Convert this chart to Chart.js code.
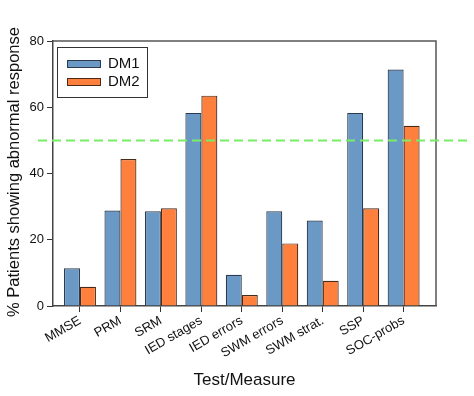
<!DOCTYPE html>
<html>
<head>
<meta charset="utf-8">
<script src="https://cdn.jsdelivr.net/npm/chart.js@4/dist/chart.umd.min.js"></script>
<style>
html,body{margin:0;padding:0;background:#fff;}
#wrap{width:474px;height:396px;position:relative;}
</style>
</head>
<body>
<div id="wrap"><canvas id="c" width="474" height="396"></canvas></div>
<script>
const categories = ["MMSE","PRM","SRM","IED stages","IED errors","SWM errors","SWM strat.","SSP","SOC-probs"];
const dm1 = [11.4, 28.8, 28.6, 58.3, 9.4, 28.6, 25.8, 58.3, 71.4];
const dm2 = [5.8, 44.4, 29.5, 63.5, 3.3, 18.9, 7.6, 29.5, 54.4];
const seriesNames = ["DM1","DM2"];
const yTicks = [0, 20, 40, 60, 80];
const threshold = 50;
const yTitle = '% Patients showing abnormal response';
const xTitle = 'Test/Measure';

const FONT = "'Liberation Sans', Arial, sans-serif";

const toPoints = arr => arr.map((v, i) => ({ x: i, y: v }));

const extras = {
  id: 'extras',
  afterDatasetsDraw(chart) {
    const {ctx, chartArea: a, scales} = chart;
    ctx.save();
    // frame top & right
    ctx.strokeStyle = '#555';
    ctx.lineWidth = 1.5;
    ctx.beginPath();
    ctx.moveTo(a.left, a.top);
    ctx.lineTo(a.right, a.top);
    ctx.lineTo(a.right, a.bottom);
    ctx.stroke();
    // threshold dashed line
    const y = scales.y.getPixelForValue(threshold);
    ctx.strokeStyle = '#77EE66';
    ctx.lineWidth = 2;
    ctx.setLineDash([9, 5]);
    ctx.beginPath();
    ctx.moveTo(38, y);
    ctx.lineTo(472, y);
    ctx.stroke();
    ctx.setLineDash([]);
    // legend box
    const lx = a.left + 4, ly = a.top + 6, lw = 90, lh = 50;
    ctx.strokeStyle = '#333';
    ctx.lineWidth = 1;
    ctx.strokeRect(lx + 0.5, ly + 0.5, lw, lh);
    chart.data.datasets.forEach((ds, i) => {
      const sy = ly + 13 + i * 18;
      ctx.fillStyle = ds.backgroundColor;
      ctx.fillRect(lx + 10, sy, 33, 7);
      ctx.strokeStyle = ds.borderColor;
      ctx.strokeRect(lx + 10.5, sy + 0.5, 33, 7);
      ctx.fillStyle = '#111';
      ctx.font = '15px ' + FONT;
      ctx.textBaseline = 'middle';
      ctx.textAlign = 'left';
      ctx.fillText(ds.label, lx + 51, sy + 4);
    });
    // y axis title
    ctx.save();
    ctx.translate(14, 172);
    ctx.rotate(-Math.PI / 2);
    ctx.fillStyle = '#111';
    ctx.font = '16.5px ' + FONT;
    ctx.textAlign = 'center';
    ctx.textBaseline = 'middle';
    ctx.fillText(yTitle, 0, 0);
    ctx.restore();
    ctx.restore();
  }
};

new Chart(document.getElementById('c'), {
  type: 'bar',
  data: {
    datasets: [
      { label: seriesNames[0], data: toPoints(dm1), backgroundColor: '#6A99C6', borderColor: '#2B3A4E', borderWidth: 1.2 },
      { label: seriesNames[1], data: toPoints(dm2), backgroundColor: '#FF7F3C', borderColor: '#4A2A18', borderWidth: 1.2 }
    ]
  },
  options: {
    responsive: false,
    animation: false,
    devicePixelRatio: 1,
    layout: { padding: { top: 41, right: 38, left: 0, bottom: 0 } },
    datasets: { bar: { categoryPercentage: 0.79, barPercentage: 1.0 } },
    plugins: { legend: { display: false }, tooltip: { enabled: false } },
    scales: {
      x: {
        type: 'linear',
        offset: false,
        min: -0.667, max: 8.8,
        afterBuildTicks(s) { s.ticks = categories.map((c, i) => ({ value: i })); },
        grid: { offset: false, drawOnChartArea: false, drawTicks: true, tickLength: 6, color: '#333', lineWidth: 1 },
        border: { color: '#444', width: 1.5 },
        ticks: { color: '#111', font: { family: FONT, size: 13 }, minRotation: 30, maxRotation: 30, padding: 1, autoSkip: false,
          callback: (v) => categories[v] },
        title: { display: true, text: xTitle, color: '#111', font: { family: FONT, size: 17 }, padding: { top: 0, bottom: 5 } },
        afterFit(s) { s.height = 90; }
      },
      y: {
        min: 0, max: 80,
        afterBuildTicks(s) { s.ticks = yTicks.map(v => ({ value: v })); },
        grid: { drawOnChartArea: false, drawTicks: true, tickLength: 6, color: '#333' },
        border: { color: '#444', width: 1.5 },
        ticks: { color: '#111', font: { family: FONT, size: 13 }, padding: 3 },
        title: { display: false },
        afterFit(s) { s.width = 53; }
      }
    }
  },
  plugins: [extras]
});
</script>
</body>
</html>
